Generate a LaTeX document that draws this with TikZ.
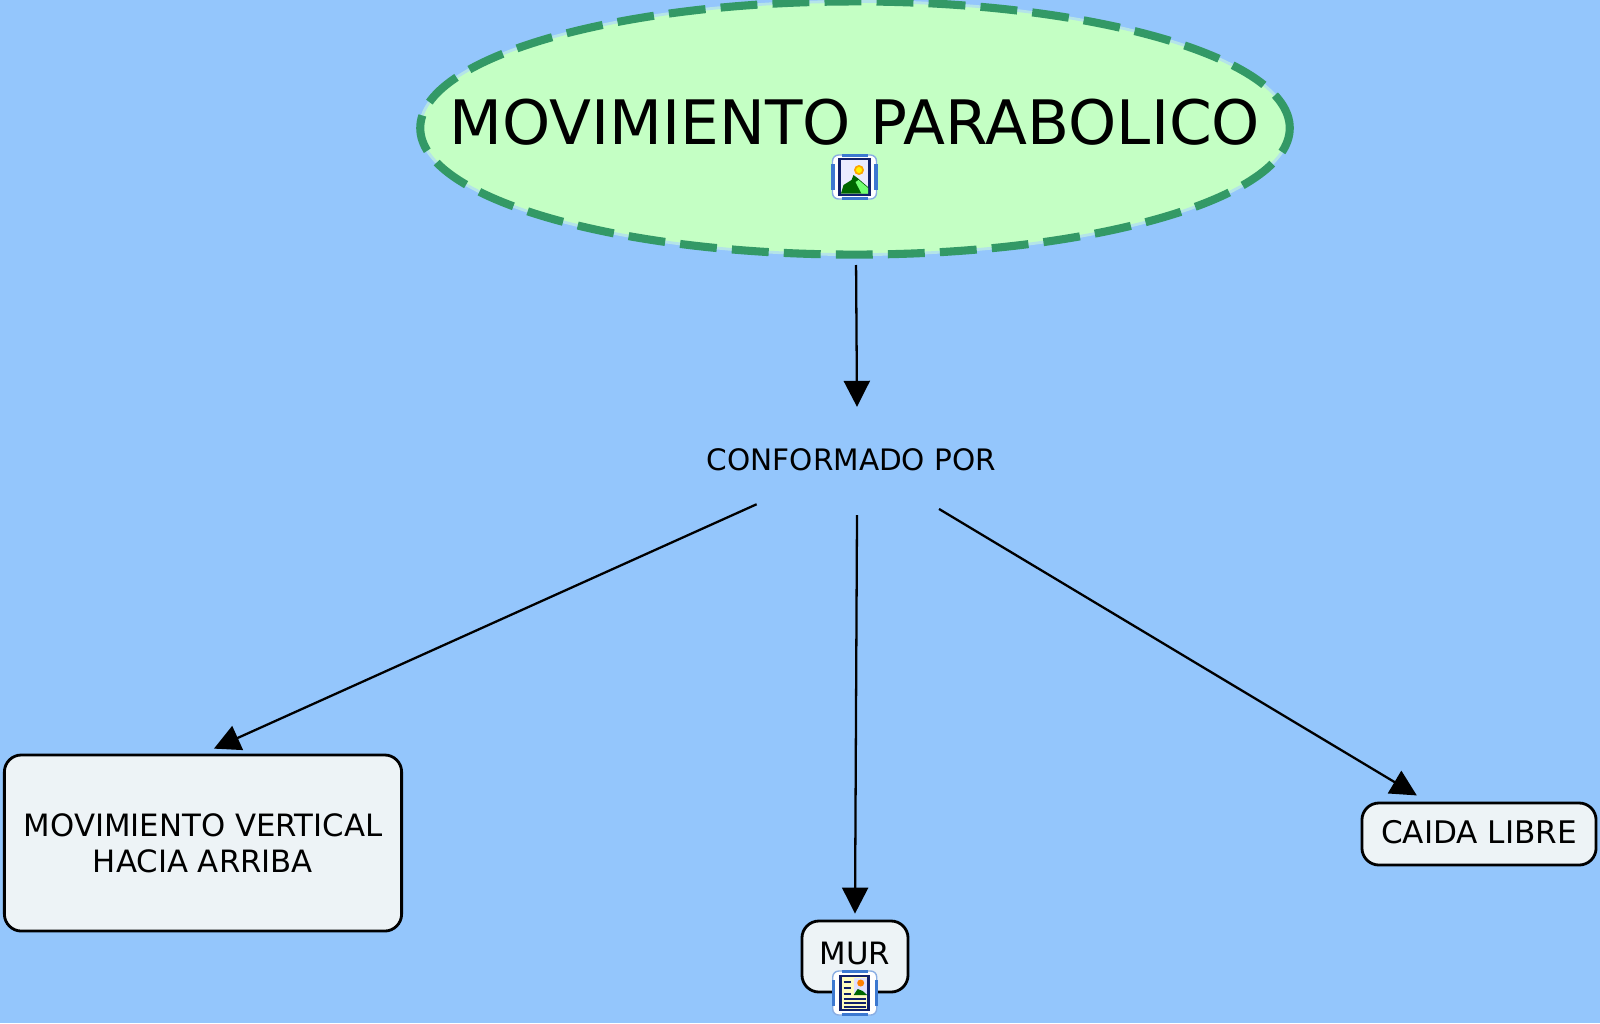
\documentclass[tikz,border=0pt]{standalone}
\usepackage{fontspec}
\setmainfont{DejaVu Sans}
\usetikzlibrary{arrows.meta,shapes.geometric}
\definecolor{skyback}{HTML}{94C6FC}
\definecolor{mintfill}{HTML}{C4FFC4}
\definecolor{dashgreen}{HTML}{339966}
\definecolor{dashpale}{HTML}{B4E4E8}
\definecolor{boxfill}{HTML}{EDF3F6}
\definecolor{iconblue}{HTML}{3C78D0}
\definecolor{iconnavy}{HTML}{10206A}
\tikzset{
  concept/.style={draw=black,line width=.8pt,fill=boxfill,rounded corners=.17cm,inner sep=0,
    font=\fontsize{8.75}{10.15}\selectfont,align=center},
  iconback/.pic={
    \draw[iconblue!60!white,line width=.4pt,fill=white,rounded corners=.06cm] (-22,-22) rectangle (22,22);
    \draw[iconblue,line width=.9pt] (-21.5,-13)--(-21.5,13) (21.5,-13)--(21.5,13) (-13,-21.5)--(13,-21.5) (-13,21.5)--(13,21.5);
  },
  imgicon/.pic={
    \pic {iconback};
    \draw[iconnavy,line width=.7pt,fill=blue!8!white] (-15,-18) rectangle (15,18);
    \fill[orange!70!yellow] (4.5,-7) circle [radius=5];
    \fill[yellow] (4.5,-7) circle [radius=3];
    \fill[green!40!black] (-13.5,16.5)--(-11,8)--(-3,3)--(-1,-2)--(3,1)--(13.5,10)--(13.5,16.5)--cycle;
    \fill[green!55!white] (1,5)--(4,3)--(13.5,11)--(13.5,16.5)--(7,16.5)--cycle;
  },
  docicon/.pic={
    \pic {iconback};
    \draw[iconnavy,line width=.7pt,fill=yellow!25!white] (-14,-17) rectangle (14,17);
    \fill[blue!12!white] (-1,-15.5) rectangle (12.5,2);
    \fill[orange] (6,-10) circle [radius=3.5];
    \fill[green!40!black] (-1,2)--(3,-4)--(8,-2)--(12.5,2)--cycle;
    \foreach \y in {-11,-5,1}
    {
       \draw[iconnavy,line width=.7pt] (-11,\y)--(-4,\y);
    }
    \foreach \y in {6,10,14}
    {
       \draw[iconnavy,line width=.7pt] (-11,\y)--(11,\y);
    }
  }
}
\begin{document}
\begin{tikzpicture}[x=.01cm,y=-.01cm,>={Triangle[length=.26cm,width=.26cm]},line width=.65pt]

\fill[skyback] (0,0) rectangle (1600,1023);
\useasboundingbox (0,0) rectangle (1600,1023);

\node[ellipse,draw=dashpale,fill=mintfill,line width=.8pt,minimum width=8.69cm,minimum height=2.53cm,inner sep=0,
  text height=.44cm,text depth=.11cm,font=\fontsize{17.43}{20}\selectfont,
  postaction={draw=dashgreen,line width=2.3pt,dash pattern=on 10.5pt off 4.3pt}]
  (title) at (855,128) {\makebox[0pt]{MOVIMIENTO PARABOLICO}};

\node[inner sep=0,minimum width=2.9cm,minimum height=1.07cm,text depth=.04cm,font=\fontsize{8.4}{10}\selectfont]
  (conf) at (851.5,461.5) {CONFORMADO POR};

\node[concept,minimum width=3.97cm,minimum height=1.76cm] (mva) at (203,843) {MOVIMIENTO VERTICAL\\HACIA ARRIBA};
\node[concept,minimum width=1.06cm,minimum height=.71cm,text depth=.06cm] (mur) at (855,956.5) {MUR};
\node[concept,minimum width=2.34cm,minimum height=.62cm,text depth=.04cm,font=\fontsize{8.85}{10}\selectfont] (libre) at (1479,834) {CAIDA LIBRE};

\draw[->,shorten <=.09cm] ([xshift=.01cm]title.south)--([xshift=.055cm]conf.north);
\draw[->,shorten <=1.04cm,shorten >=.12cm] (conf.center)--(mva.north);
\draw[->] ([xshift=.055cm,yshift=.01cm]conf.south)--([yshift=.06cm]mur.north);
\draw[->,shorten <=1.02cm,shorten >=.12cm] ([yshift=.05cm]conf.center)--(libre.148);

\pic at (854.5,177) {imgicon};
\pic at (854.7,993) {docicon};

\end{tikzpicture}
\end{document}
